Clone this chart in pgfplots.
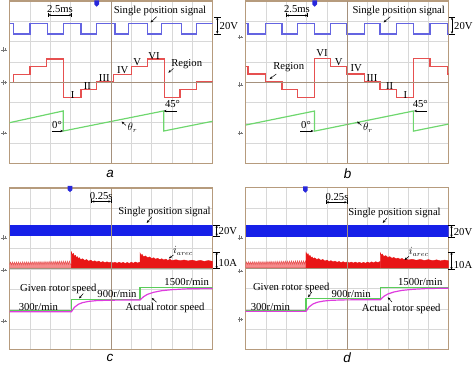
\documentclass[border=0pt]{standalone}
\usepackage{fontspec}
\setmainfont{Liberation Serif}
\newfontfamily\sansf{Liberation Sans}
\usepackage{pgfplots}
\pgfplotsset{compat=1.18}
\usetikzlibrary{arrows.meta}
\definecolor{framecol}{RGB}{182,155,125}
\definecolor{gridcol}{RGB}{216,216,216}
\definecolor{centercol}{RGB}{165,145,125}
\definecolor{bluea}{RGB}{100,100,225}
\definecolor{reda}{RGB}{230,80,80}
\definecolor{greena}{RGB}{110,215,110}
\definecolor{bluec}{RGB}{22,32,232}
\definecolor{redc}{RGB}{232,22,22}
\definecolor{redl}{RGB}{246,140,140}
\definecolor{greenc}{RGB}{90,205,90}
\definecolor{magc}{RGB}{222,60,222}
\definecolor{tmark}{RGB}{40,40,220}
\definecolor{gndcol}{RGB}{120,120,120}
\pgfplotsset{oscframe/.style={scale only axis, width=203bp, anchor=south west,
  xmin=0,xmax=10,ymin=0,ymax=8, xtick={0,...,10}, ytick={0,...,8},
  xticklabels={}, yticklabels={}, major tick length=0pt,
  grid=major, major grid style={draw=gridcol, line width=0.6pt},
  axis line style={draw=framecol, line width=1.4pt}}}
\pgfplotstableread{
x y
0 4.04
0 4.2
0.05 4.33
0.1 4.2
0.15 4.34
0.2 4.2
0.25 4.33
0.3 4.2
0.35 4.34
0.4 4.2
0.45 4.34
0.5 4.2
0.55 4.33
0.6 4.2
0.65 4.35
0.7 4.2
0.75 4.34
0.8 4.2
0.85 4.35
0.9 4.2
0.95 4.34
1.0 4.2
1.05 4.35
1.1 4.21
1.15 4.35
1.2 4.21
1.25 4.36
1.3 4.21
1.35 4.35
1.4 4.21
1.45 4.36
1.5 4.21
1.55 4.36
1.6 4.21
1.65 4.36
1.7 4.21
1.75 4.37
1.8 4.22
1.85 4.36
1.9 4.22
1.95 4.37
2.0 4.22
2.05 4.37
2.1 4.22
2.15 4.37
2.2 4.22
2.25 4.38
2.3 4.22
2.35 4.37
2.4 4.22
2.45 4.38
2.5 4.22
2.55 4.38
2.6 4.22
2.65 4.38
2.7 4.22
2.75 4.38
2.8 4.22
2.85 4.38
2.9 4.22
2.95 4.38
3.0 4.22
3.05 4.22
3.05 4.04
}\redfirst
\begin{document}
\begin{tikzpicture}
\path[use as bounding box] (0,0) rectangle (474bp,366bp);
% ---------------- panel a
\begin{axis}[oscframe, height=162.4bp, at={(9.5bp,202.7bp)}]
\addplot[bluea, line width=1.2pt] coordinates {(0,6.9) (0.19,6.9) (0.19,6.37) (1.01,6.37) (1.01,6.9) (1.88,6.9) (1.88,6.37) (2.65,6.37) (2.65,6.9) (3.52,6.9) (3.52,6.37) (4.30,6.37) (4.30,6.9) (5.20,6.9) (5.20,6.37) (5.86,6.37) (5.86,6.9) (6.81,6.9) (6.81,6.37) (7.50,6.37) (7.50,6.9) (8.46,6.9) (8.46,6.37) (9.23,6.37) (9.23,6.9) (10,6.9)};
\addplot[reda, line width=1.2pt] coordinates {(0.19,4.02) (0.19,4.38) (1.01,4.38) (1.01,4.76) (1.83,4.76) (1.83,5.14) (2.65,5.14) (2.65,3.24) (3.52,3.24) (3.52,3.63) (4.30,3.63) (4.30,4.02) (5.12,4.02) (5.12,4.38) (6.0,4.38) (6.0,4.76) (6.81,4.76) (6.81,5.14) (7.63,5.14) (7.63,3.24) (8.40,3.24) (8.40,3.63) (9.23,3.63) (9.23,4.02) (10,4.02)};
\addplot[greena, line width=1.2pt] coordinates {(0,2.0) (2.65,2.58) (2.65,1.59) (7.6,2.58) (7.6,1.59) (10,2.07)};
\draw[centercol, line width=0.9pt] (axis cs:0,4) -- (axis cs:10,4) (axis cs:5,0) -- (axis cs:5,8);
\end{axis}
% ---------------- panel b
\begin{axis}[oscframe, height=162.4bp, at={(245.7bp,202.6bp)}]
\addplot[bluea, line width=1.2pt] coordinates {(0,6.9) (0.11,6.9) (0.11,6.37) (0.96,6.37) (0.96,6.9) (1.79,6.9) (1.79,6.37) (2.57,6.37) (2.57,6.9) (3.39,6.9) (3.39,6.37) (4.16,6.37) (4.16,6.9) (4.98,6.9) (4.98,6.37) (5.85,6.37) (5.85,6.9) (6.62,6.9) (6.62,6.37) (7.44,6.37) (7.44,6.9) (8.26,6.9) (8.26,6.37) (9.08,6.37) (9.08,6.9) (9.95,6.9) (9.95,6.37) (10,6.37)};
\addplot[reda, line width=1.2pt] coordinates {(0,4.78) (0.11,4.78) (0.11,4.40) (0.96,4.40) (0.96,4.02) (1.79,4.02) (1.79,3.64) (2.57,3.64) (2.57,3.23) (3.39,3.23) (3.39,5.16) (4.16,5.16) (4.16,4.78) (4.98,4.78) (4.98,4.40) (5.85,4.40) (5.85,4.02) (6.62,4.02) (6.62,3.64) (7.44,3.64) (7.44,3.23) (8.26,3.23) (8.26,5.16) (9.08,5.16) (9.08,4.78) (9.95,4.78) (9.95,4.40) (10,4.40)};
\addplot[greena, line width=1.2pt] coordinates {(0,1.89) (3.39,2.58) (3.39,1.59) (8.26,2.58) (8.26,1.59) (10,1.94)};
\draw[centercol, line width=0.9pt] (axis cs:0,4) -- (axis cs:10,4) (axis cs:5,0) -- (axis cs:5,8);
\end{axis}
% ---------------- panel c
\begin{axis}[oscframe, height=161.7bp, at={(9.5bp,16.3bp)}]
\addplot[draw=none, fill=bluec] coordinates {(0,5.61) (10,5.61) (10,6.15) (0,6.15)} -- cycle;
\addplot[draw=reda, line width=0.5pt, fill=redl] table[x=x,y=y] {\redfirst} -- cycle;
\addplot[draw=redc, line width=0.4pt, fill=redc] coordinates {(3.05,4.04) (3.05,4.83) (3.1,4.70) (3.15,4.76) (3.2,4.62) (3.25,4.67) (3.3,4.55) (3.35,4.60) (3.4,4.50) (3.45,4.55) (3.5,4.46) (3.6,4.50) (3.7,4.42) (3.8,4.46) (3.9,4.38) (4.0,4.43) (4.1,4.36) (4.2,4.40) (4.3,4.34) (4.4,4.38) (4.5,4.32) (4.6,4.36) (4.7,4.30) (4.8,4.35) (4.9,4.30) (5.0,4.34) (5.1,4.29) (5.2,4.33) (5.3,4.28) (5.4,4.33) (5.5,4.28) (5.6,4.32) (5.7,4.27) (5.8,4.32) (5.9,4.27) (6.0,4.33) (6.1,4.28) (6.2,4.34) (6.3,4.29) (6.43,4.33) (6.43,4.04)} -- cycle;
\addplot[draw=redc, line width=0.4pt, fill=redc] coordinates {(6.43,4.04) (6.43,4.78) (6.48,4.66) (6.53,4.72) (6.6,4.60) (6.7,4.64) (6.8,4.55) (6.9,4.59) (7.0,4.51) (7.1,4.55) (7.2,4.48) (7.3,4.52) (7.4,4.46) (7.5,4.50) (7.6,4.44) (7.7,4.48) (7.8,4.42) (7.9,4.47) (8.0,4.41) (8.2,4.45) (8.4,4.40) (8.6,4.44) (8.8,4.39) (9.0,4.43) (9.2,4.38) (9.4,4.42) (9.6,4.37) (9.8,4.41) (10,4.37) (10,4.04)} -- cycle;
\addplot[greenc, line width=1.2pt] coordinates {(0,1.92) (3.05,1.92) (3.05,2.5) (6.43,2.5) (6.43,3.07) (10,3.07)};
\addplot[magc, line width=1.2pt] coordinates {(0,1.88) (3.05,1.88) (3.2,2.1) (3.4,2.25) (3.6,2.33) (3.9,2.39) (4.3,2.43) (5,2.45) (6.43,2.46) (6.6,2.62) (6.8,2.74) (7.1,2.84) (7.5,2.92) (8,2.97) (8.7,3.01) (10,3.03)};
\draw[centercol, line width=0.9pt] (axis cs:0,4) -- (axis cs:10,4) (axis cs:5,0) -- (axis cs:5,8);
\end{axis}
% ---------------- panel d
\begin{axis}[oscframe, height=161.7bp, at={(245.7bp,16.6bp)}]
\addplot[draw=none, fill=bluec] coordinates {(0,5.56) (10,5.56) (10,6.13) (0,6.13)} -- cycle;
\addplot[draw=reda, line width=0.5pt, fill=redl] table[x=x,y=y] {\redfirst} -- cycle;
\addplot[draw=redc, line width=0.4pt, fill=redc] coordinates {(2.97,4.0) (2.97,4.80) (3.02,4.68) (3.07,4.74) (3.12,4.60) (3.17,4.65) (3.22,4.54) (3.27,4.58) (3.32,4.49) (3.4,4.53) (3.5,4.45) (3.6,4.49) (3.7,4.41) (3.8,4.45) (3.9,4.37) (4.0,4.42) (4.1,4.35) (4.2,4.39) (4.3,4.33) (4.4,4.37) (4.5,4.31) (4.6,4.35) (4.7,4.29) (4.8,4.34) (4.9,4.29) (5.0,4.33) (5.1,4.28) (5.2,4.32) (5.3,4.27) (5.4,4.32) (5.5,4.27) (5.6,4.31) (5.7,4.26) (5.8,4.31) (5.9,4.26) (6.0,4.32) (6.1,4.27) (6.2,4.33) (6.3,4.28) (6.4,4.34) (6.5,4.30) (6.63,4.35) (6.63,4.0)} -- cycle;
\addplot[draw=redc, line width=0.4pt, fill=redc] coordinates {(6.63,4.0) (6.63,4.78) (6.68,4.66) (6.73,4.72) (6.8,4.60) (6.9,4.64) (7.0,4.55) (7.1,4.59) (7.2,4.51) (7.3,4.55) (7.4,4.48) (7.5,4.52) (7.6,4.46) (7.7,4.50) (7.8,4.44) (7.9,4.48) (8.0,4.42) (8.2,4.46) (8.4,4.41) (8.6,4.45) (8.8,4.40) (9.0,4.44) (9.2,4.39) (9.4,4.43) (9.6,4.38) (9.8,4.42) (10,4.38) (10,4.0)} -- cycle;
\addplot[greenc, line width=1.2pt] coordinates {(0,1.92) (2.97,1.92) (2.97,2.5) (6.63,2.5) (6.63,3.07) (10,3.07)};
\addplot[magc, line width=1.2pt] coordinates {(0,1.88) (2.97,1.88) (3.12,2.1) (3.32,2.25) (3.52,2.33) (3.82,2.39) (4.22,2.43) (4.9,2.45) (6.63,2.46) (6.8,2.62) (7.0,2.74) (7.3,2.84) (7.7,2.92) (8.2,2.97) (8.9,3.01) (10,3.03)};
\draw[centercol, line width=0.9pt] (axis cs:0,4) -- (axis cs:10,4) (axis cs:5,0) -- (axis cs:5,8);
\end{axis}
% ---------------- annotations (pixel coordinates, y downwards)
\begin{scope}[x=1bp, y=-1bp, yshift=366bp,
  lab/.style={font=\fontsize{10.7}{12}\selectfont, inner sep=0pt, anchor=base},
  labw/.style={font=\fontsize{10.7}{12}\selectfont, inner sep=0pt, anchor=base west},
  arr/.style={line width=0.5pt, -{Stealth[length=3pt,width=2.4pt]}},
  dbl/.style={line width=0.5pt, {Stealth[length=2.6pt,width=2.2pt]}-{Stealth[length=2.6pt,width=2.2pt]}},
  pl/.style={font=\sansf\itshape\fontsize{13.5}{15}\selectfont, inner sep=0pt}]
% trigger markers
\foreach \tx/\ty in {96.7/0.5, 314.7/0.5, 70/186, 305.3/186.5}{
  \fill[tmark] (\tx-2.3,\ty) -- (\tx+2.3,\ty) -- (\tx+2.3,\ty+4) -- (\tx,\ty+6.2) -- (\tx-2.3,\ty+4) -- cycle;}
% ground markers
\foreach \gx/\gy in {4/50, 4/82.7, 4/133.3, 240.5/37.3, 240.5/85, 240.5/133.3, 4/238, 4/270.3, 4/321.3, 240.5/238, 240.5/271.3, 240.5/319.7}{
  \draw[gndcol, line width=0.6pt] (\gx-3,\gy) -- (\gx+2.5,\gy) (\gx-1,\gy-2.5) -- (\gx-1,\gy+2) (\gx+1,\gy-1.5) -- (\gx+1,\gy+1);}
% ---- a
\node[lab] at (60,12.7) {2.5ms};
\draw[dbl] (48.3,15) -- (71.7,15);
\draw[line width=0.5pt] (48.3,13) -- (48.3,17) (71.7,13) -- (71.7,17);
\node[lab] at (160,14) {Single position signal};
\draw[arr] (156.7,16.7) -- (150.5,22.5);
\draw[dbl] (217.3,17.3) -- (217.3,33.8);
\draw[line width=0.5pt] (214,17.3) -- (220.5,17.3) (214,33.8) -- (220.5,33.8);
\node[labw] at (219.5,29.3) {20V};
\node[lab] at (72.7,98.3) {I};
\node[lab] at (87.3,89.8) {II};
\node[lab] at (104.3,81.7) {III};
\node[lab] at (122.7,74) {IV};
\node[lab] at (137.3,65.7) {V};
\node[lab] at (154,60) {VI};
\node[lab] at (186.7,66.7) {Region};
\draw[arr] (173.5,68.5) -- (168.3,72.7);
\node[lab] at (57,129) {0°};
\draw[arr, line width=0.8pt] (51.5,131) -- (63.3,131);
\node[labw] at (127.5,131) {$\theta_r$};
\draw[arr] (126,125.5) -- (121.5,121.5);
\node[lab] at (172.5,107.3) {45°};
\draw[arr] (177,111) -- (163.6,111);
\node[pl] at (110,173.5) {a};
% ---- b
\node[lab] at (297,12.7) {2.5ms};
\draw[dbl] (286.3,15.5) -- (307.7,15.5);
\draw[line width=0.5pt] (286.3,13.5) -- (286.3,17.5) (307.7,13.5) -- (307.7,17.5);
\node[lab] at (398.7,14) {Single position signal};
\draw[arr] (390.3,16.7) -- (383.5,22.5);
\draw[dbl] (452,17.3) -- (452,33.8);
\draw[line width=0.5pt] (448.7,17.3) -- (455.3,17.3) (448.7,33.8) -- (455.3,33.8);
\node[labw] at (454,29.3) {20V};
\node[lab] at (322,56.7) {VI};
\node[lab] at (338.7,65.7) {V};
\node[lab] at (356.3,71.7) {IV};
\node[lab] at (372,81.7) {III};
\node[lab] at (389.7,89.3) {II};
\node[lab] at (405.3,98.3) {I};
\node[lab] at (288.7,69.3) {Region};
\draw[arr] (276.3,74) -- (269.7,79);
\node[lab] at (306,129) {0°};
\draw[arr, line width=0.8pt] (300.3,131) -- (313.7,131);
\node[labw] at (363,131) {$\theta_r$};
\draw[arr] (361.5,125.5) -- (357,121.5);
\node[lab] at (420.3,107.8) {45°};
\draw[arr] (427,111) -- (414,111);
\node[pl] at (347.5,174) {b};
% ---- c
\node[lab] at (101.2,199.7) {0.25s};
\draw[dbl] (91.7,201.5) -- (111,201.5);
\draw[line width=0.5pt] (91.7,199.5) -- (91.7,203.5) (111,199.5) -- (111,203.5);
\node[lab] at (164.5,214.7) {Single position signal};
\draw[arr] (151.7,217) -- (146.7,223);
\draw[dbl] (216.7,225.3) -- (216.7,236.3);
\draw[line width=0.5pt] (213.4,225.3) -- (220,225.3) (213.4,236.3) -- (220,236.3);
\node[labw] at (218.5,234.7) {20V};
\draw[dbl] (216.7,252) -- (216.7,268.7);
\draw[line width=0.5pt] (213.4,252) -- (220,252) (213.4,268.7) -- (220,268.7);
\node[labw] at (218.5,267) {10A};
\node[labw] at (173,253.5) {$i_{arec}$};
\draw[arr] (173.5,255) -- (168.8,258.5);
\node[lab] at (58.3,291.3) {Given rotor speed};
\draw[arr] (83.3,293.5) -- (79,298.5);
\node[lab] at (117,297.3) {900r/min};
\node[lab] at (186.7,285.7) {1500r/min};
\node[lab] at (38.3,310.7) {300r/min};
\node[lab] at (165,310.7) {Actual rotor speed};
\draw[arr] (156.7,302.3) -- (151.7,298);
\node[pl] at (110,357.5) {c};
% ---- d
\node[lab] at (337,200.3) {0.25s};
\draw[dbl] (326.3,202.3) -- (347,202.3);
\draw[line width=0.5pt] (326.3,200.3) -- (326.3,204.3) (347,200.3) -- (347,204.3);
\node[lab] at (394.5,215.3) {Single position signal};
\draw[arr] (387,218) -- (382.7,223);
\draw[dbl] (451.5,225.3) -- (451.5,237.3);
\draw[line width=0.5pt] (448.2,225.3) -- (454.8,225.3) (448.2,237.3) -- (454.8,237.3);
\node[labw] at (453.7,235.7) {20V};
\draw[dbl] (451.5,252) -- (451.5,269.7);
\draw[line width=0.5pt] (448.2,252) -- (454.8,252) (448.2,269.7) -- (454.8,269.7);
\node[labw] at (453.7,268.5) {10A};
\node[labw] at (408.7,254.7) {$i_{arec}$};
\draw[arr] (409,256.3) -- (404.5,260);
\node[lab] at (291.2,290.3) {Given rotor speed};
\draw[arr] (312,291.8) -- (308,297.3);
\node[lab] at (351.2,298) {900r/min};
\node[lab] at (420.3,285.7) {1500r/min};
\node[lab] at (270.3,310.3) {300r/min};
\node[lab] at (401.2,312) {Actual rotor speed};
\draw[arr] (392,302) -- (387.7,297.3);
\node[pl] at (347,358) {d};
\end{scope}
\end{tikzpicture}
\end{document}
